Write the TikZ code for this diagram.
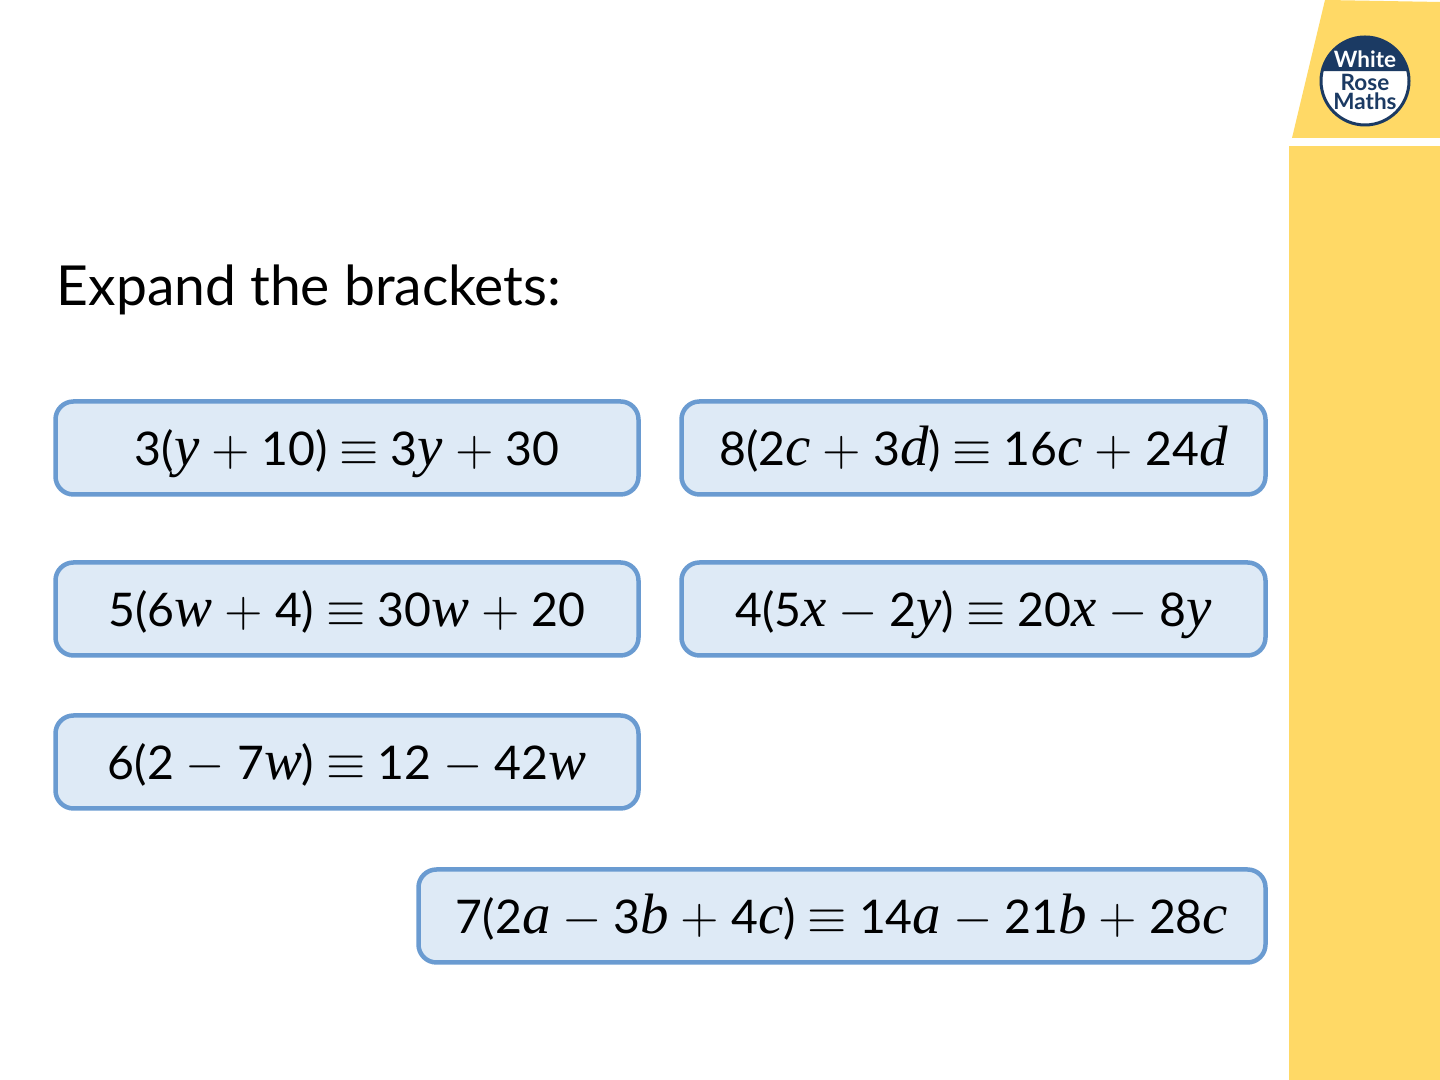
\documentclass[tikz,border=0pt]{standalone}
\usepackage{fontspec}
\setmainfont{Lato}
\newfontfamily\letterfont{Liberation Serif}
\definecolor{wryellow}{HTML}{FFD966}
\definecolor{wrnavy}{HTML}{1B3A63}
\definecolor{cardfill}{HTML}{DEEAF6}
\definecolor{cardline}{HTML}{6A9BD1}
\newcommand{\alg}[1]{{\letterfont\itshape\fontsize{16.2}{20}\selectfont #1}}
\newcommand{\op}[1]{{\fontsize{15.5}{17}\selectfont$#1$}}
\tikzset{
	card/.style={draw=cardline, fill=cardfill, line width=0.045cm, rounded corners=0.18cm, inner sep=0pt, minimum height=0.93cm, text height=0.5cm, text depth=0.14cm, font=\fontsize{13.2}{17}\selectfont},
	logotext/.style={inner sep=0pt, text=wrnavy, font=\bfseries\fontsize{6.4}{7}\selectfont}
}

\begin{document}
\begin{tikzpicture}
	%%%%% START %%%%%
	\useasboundingbox (0, 0) rectangle (14.4, 10.8);
	
	\fill[wryellow] (13.25, 10.8) -- (14.4, 10.78) -- (14.4, 9.42) -- (12.92, 9.42) -- cycle;
	\fill[wryellow] (12.89, 9.34) rectangle (14.4, 0);
	
	\draw[wrnavy, line width=0.03cm, fill=white] (13.65, 9.99) circle (0.44);
	\fill[wrnavy] (13.65, 9.99) ++(13:0.44) arc (13:167:0.44) -- cycle;
	\node[logotext, text=white] (white) at (13.65, 10.21) {White};
	\node[logotext] (rose) at (13.65, 9.98) {Rose};
	\node[logotext] (maths) at (13.65, 9.79) {Maths};
	
	\node[anchor=base west, inner sep=0pt, font=\fontsize{15.7}{21}\selectfont] (title) at (0.56, 7.74) {Expand the brackets:};
	
	\node[card, minimum width=5.83cm] (cardy) at (3.47, 6.32) {3(\alg{y} \op{+} 10) \op{\equiv} 3\alg{y} \op{+} 30};
	\node[card, minimum width=5.84cm] (cardc) at (9.735, 6.32) {8(2\alg{c} \op{+} 3\alg{d}) \op{\equiv} 16\alg{c} \op{+} 24\alg{d}};
	
	\node[card, minimum width=5.83cm] (cardw) at (3.47, 4.71) {5(6\alg{w} \op{+} 4) \op{\equiv} 30\alg{w} \op{+} 20};
	\node[card, minimum width=5.84cm] (cardx) at (9.735, 4.71) {4(5\alg{x} \op{-} 2\alg{y}) \op{\equiv} 20\alg{x} \op{-} 8\alg{y}};
	
	\node[card, minimum width=5.83cm] (cardn) at (3.47, 3.18) {6(2 \op{-} 7\alg{w}) \op{\equiv} 12 \op{-} 42\alg{w}};
	
	\node[card, minimum width=8.47cm] (carda) at (8.42, 1.64) {7(2\alg{a} \op{-} 3\alg{b} \op{+} 4\alg{c}) \op{\equiv} 14\alg{a} \op{-} 21\alg{b} \op{+} 28\alg{c}};
	%%%%% END %%%%%
\end{tikzpicture}
\end{document}
